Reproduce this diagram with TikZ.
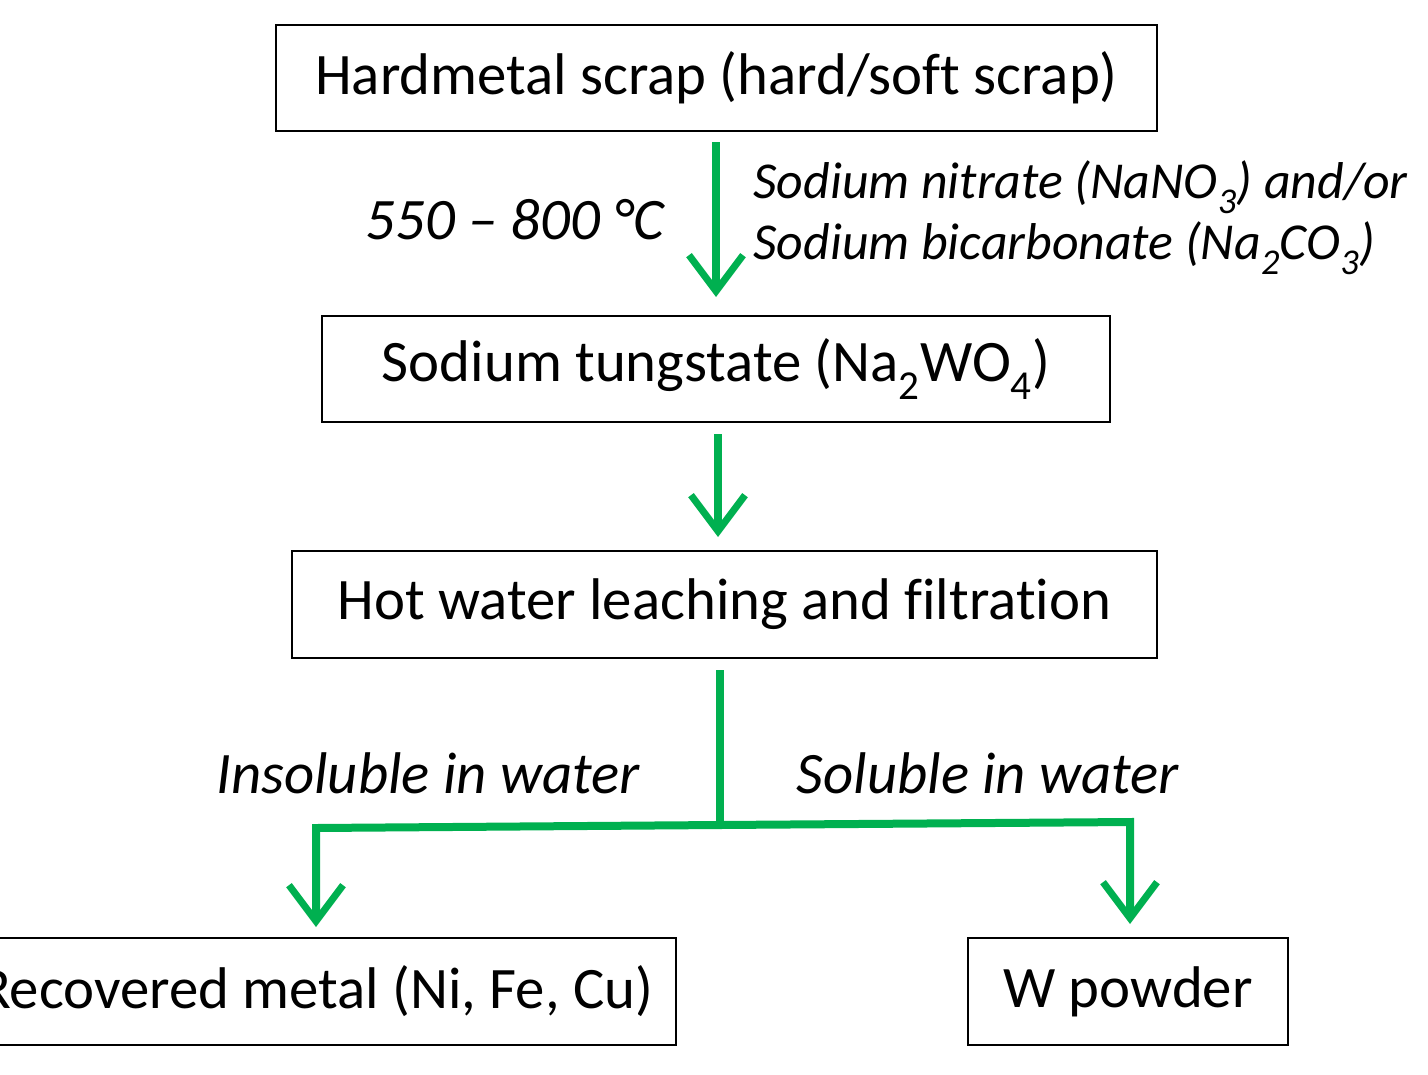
\documentclass[tikz,border=0pt]{standalone}
\usepackage{fontspec}
\setmainfont[Ligatures=NoCommon]{Carlito}
\usetikzlibrary{arrows.meta}
\definecolor{grn}{RGB}{0,176,80}
\begin{document}
\begin{tikzpicture}[x=1bp,y=-1bp,
  box/.style={draw,line width=2bp,inner sep=0pt,font=\fontsize{59}{64}\selectfont},
  flow/.style={grn,line width=8bp,-{Straight Barb[length=36bp,width=54bp,line width=7bp]}},
  lab/.style={font=\fontsize{59}{64}\selectfont\itshape},
  slab/.style={font=\fontsize{52}{61}\selectfont\itshape,align=left,anchor=west}]
\useasboundingbox (0,0) rectangle (1428,1074);
\clip (0,0) rectangle (1428,1074);
\node[box,minimum width=881bp,minimum height=106bp] (a) at (716.5,78) {Hardmetal scrap (hard/soft scrap)};
\node[box,minimum width=788bp,minimum height=106bp] (b) at (716,369) {Sodium tungstate (Na\textsubscript{2}WO\textsubscript{4})};
\node[box,minimum width=865bp,minimum height=107bp] (c) at (724.5,604.5) {Hot water leaching and filtration};
\node[box,minimum width=720bp,minimum height=107bp] (d) at (316,991.5) {Recovered metal (Ni, Fe, Cu)};
\node[box,minimum width=320bp,minimum height=107bp] (e) at (1128,991.5) {W powder};
\draw[flow] (716,142) -- (716,297);
\draw[flow] (718,434) -- (718,537);
\coordinate (j) at (720,825);
\draw[grn,line width=8bp] (720,670) -- (j);
\draw[flow] (j) -- (316,828) -- (316,927);
\draw[flow] (j) -- (1130,822) -- (1130,924);
\node[lab] (t1) at (515,220) {550 – 800 °C};
\node[slab] (t2) at (750,218) {Sodium nitrate (NaNO\textsubscript{3}) and/or\\Sodium bicarbonate (Na\textsubscript{2}CO\textsubscript{3})};
\node[lab] (t3) at (428,773) {Insoluble in water};
\node[lab] (t4) at (988,773) {Soluble in water};
\end{tikzpicture}
\end{document}
